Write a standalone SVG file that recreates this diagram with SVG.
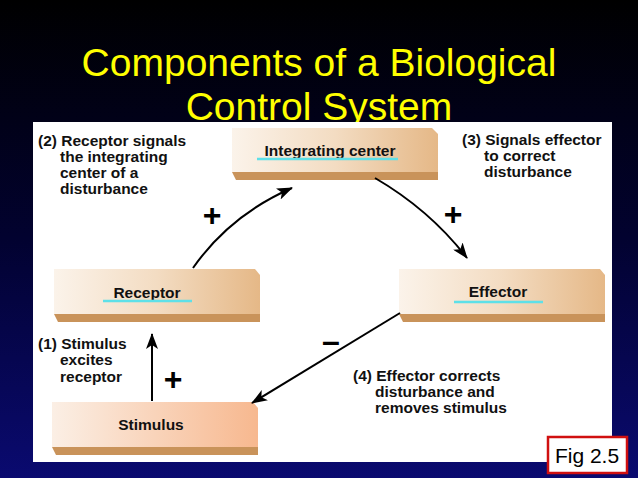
<svg xmlns="http://www.w3.org/2000/svg" width="638" height="478" viewBox="0 0 638 478">
<defs>
<linearGradient id="bg" x1="0" y1="0" x2="0" y2="1">
<stop offset="0" stop-color="#000000"/>
<stop offset="0.5" stop-color="#020230"/>
<stop offset="1" stop-color="#0a0a70"/>
</linearGradient>
<linearGradient id="slab" x1="0" y1="0" x2="1" y2="0">
<stop offset="0" stop-color="#fbf3ea"/>
<stop offset="0.5" stop-color="#f3dcc2"/>
<stop offset="1" stop-color="#e5b887"/>
</linearGradient>
<linearGradient id="slabStim" x1="0" y1="0" x2="1" y2="0">
<stop offset="0" stop-color="#fbefe5"/>
<stop offset="1" stop-color="#f7b88f"/>
</linearGradient>
<marker id="ah" viewBox="0 0 16 12" refX="15" refY="6" markerWidth="16" markerHeight="12" markerUnits="userSpaceOnUse" orient="auto">
<path d="M0,0 L16,6 L0,12 L4,6 Z" fill="#000"/>
</marker>
<style>
.title{font-family:"Liberation Sans",Arial,sans-serif;font-size:39px;fill:#ffff00;text-anchor:middle}
.lbl{font-family:"Liberation Sans",Arial,sans-serif;font-weight:bold;font-size:15.5px;fill:#111}
.nl{font-family:"Liberation Sans",Arial,sans-serif;font-weight:bold;font-size:15.5px;fill:#111;text-anchor:middle}
.ul{stroke:#5ee0e8;stroke-width:2.5}
.edge{fill:#c9935a}
.conn{fill:none;stroke:#000;stroke-width:2}
.sign{font-family:"Liberation Sans",Arial,sans-serif;font-weight:bold;font-size:32px;fill:#000;text-anchor:middle}
</style>
</defs>
<rect x="0" y="0" width="638" height="478" fill="url(#bg)"/>
<text class="title" x="319" y="76">Components of a Biological</text>
<text class="title" x="319" y="120">Control System</text>
<rect x="33" y="122" width="579" height="340" fill="#ffffff"/>

<g id="integrating">
<path class="edge" d="M232,172 L438,172 L438,180 L236,180 Z"/>
<path d="M232,128 L432,128 L438,134 L438,172 L232,172 Z" fill="url(#slab)"/>
<text class="nl" x="330" y="156">Integrating center</text>
<line class="ul" x1="257" y1="159" x2="398" y2="159"/>
</g>
<g id="receptor">
<path class="edge" d="M54,314 L260,314 L260,322 L58,322 Z"/>
<path d="M54,269 L255,269 L260,275 L260,314 L54,314 Z" fill="url(#slab)"/>
<text class="nl" x="147" y="298">Receptor</text>
<line class="ul" x1="103" y1="301" x2="192" y2="301"/>
</g>
<g id="effector">
<path class="edge" d="M399,314 L605,314 L605,322 L403,322 Z"/>
<path d="M399,269 L600,269 L605,275 L605,314 L399,314 Z" fill="url(#slab)"/>
<text class="nl" x="498" y="297">Effector</text>
<line class="ul" x1="454" y1="302" x2="543" y2="302"/>
</g>
<g id="stimulus">
<path class="edge" d="M52,447 L258,447 L258,455 L56,455 Z"/>
<path d="M52,402 L253,402 L258,408 L258,447 L52,447 Z" fill="url(#slabStim)"/>
<text class="nl" x="151" y="430">Stimulus</text>
</g>

<g id="connectors">
<path class="conn" d="M193,268 Q230,215 292,188" marker-end="url(#ah)"/>
<path class="conn" d="M375,178 Q430,210 467,258" marker-end="url(#ah)"/>
<path class="conn" d="M400,313 L252,403" marker-end="url(#ah)"/>
<path class="conn" d="M152,401 L152,334" marker-end="url(#ah)"/>
</g>

<g id="signs">
<text class="sign" x="212" y="226">+</text>
<text class="sign" x="453" y="225">+</text>
<text class="sign" x="173" y="390">+</text>
<text class="sign" x="331" y="352">–</text>
</g>

<g id="labels">
<text class="lbl" x="38" y="146">(2) Receptor signals</text>
<text class="lbl" x="60" y="162">the integrating</text>
<text class="lbl" x="60" y="178">center of a</text>
<text class="lbl" x="60" y="194">disturbance</text>
<text class="lbl" x="462" y="145">(3) Signals effector</text>
<text class="lbl" x="484" y="161">to correct</text>
<text class="lbl" x="484" y="177">disturbance</text>
<text class="lbl" x="38" y="349">(1) Stimulus</text>
<text class="lbl" x="60" y="365">excites</text>
<text class="lbl" x="60" y="382">receptor</text>
<text class="lbl" x="353" y="381">(4) Effector corrects</text>
<text class="lbl" x="375" y="397">disturbance and</text>
<text class="lbl" x="375" y="413">removes stimulus</text>
</g>

<g id="figlabel">
<rect x="548" y="437" width="79" height="36" fill="#ffffff" stroke="#d01010" stroke-width="2.5"/>
<text x="587" y="463" font-family="Liberation Sans, Arial, sans-serif" font-size="21" fill="#000" text-anchor="middle">Fig 2.5</text>
</g>
</svg>
